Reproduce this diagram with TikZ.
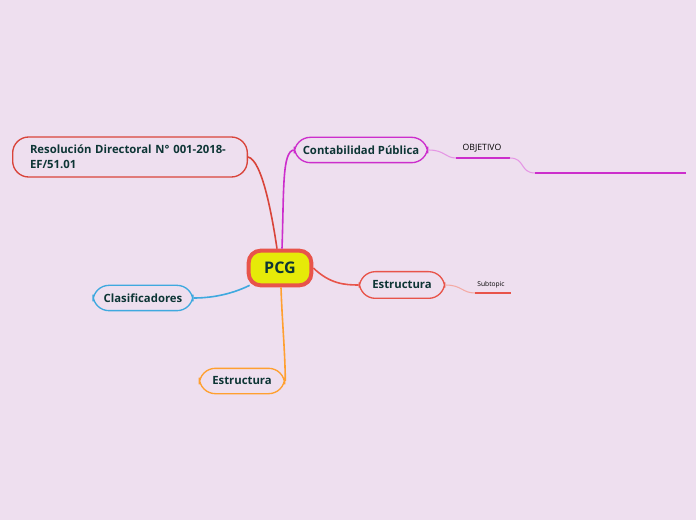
\documentclass[tikz,border=0pt]{standalone}
\usepackage{fontspec}
\setmainfont{Open Sans}
\begin{document}
\begin{tikzpicture}[x=0.75pt,y=-0.75pt,
  topic/.style={draw=#1,line width=1pt,rounded corners=12pt,fill=bgc,text=txt,font=\bfseries\fontsize{8.5}{11}\selectfont,inner sep=0pt},
  con/.style={draw=#1,line width=1.2pt}]
\definecolor{bgc}{HTML}{EEDFEF}
\definecolor{txt}{HTML}{0D3535}
\definecolor{cred}{HTML}{D9443A}
\definecolor{cmag}{HTML}{CC2ECC}
\definecolor{ccor}{HTML}{E8544A}
\definecolor{cblu}{HTML}{3FA9DF}
\definecolor{cora}{HTML}{FFA030}
\fill[bgc] (0,0) rectangle (696,520);
\useasboundingbox (0,0) rectangle (696,520);
\node[topic=cred,minimum width=176pt,minimum height=30pt,align=left,text width=150pt] (res) at (130,157) {Resolución Directoral N° 001-2018-EF/51.01};
\node[topic=cmag,minimum width=100pt,minimum height=19pt] (cont) at (361,150) {Contabilidad Pública};
\node[topic=ccor,minimum width=64pt,minimum height=20pt] (est1) at (402,285) {Estructura};
\node[topic=cblu,minimum width=75pt,minimum height=19pt] (cla) at (143,298) {Clasificadores};
\node[topic=cora,minimum width=64pt,minimum height=19pt] (est2) at (242,381) {Estructura};
\node[draw=ccor,line width=3pt,fill=yellow!90!green,rounded corners=9pt,minimum width=47pt,minimum height=26pt,text=txt,font=\bfseries\fontsize{12}{14}\selectfont] (pcg) at (280,268) {PCG};
\begin{scope}[on background layer/.try]
\end{scope}
\draw[con=cred] (pcg.north)+(-3,0) coordinate (p1) .. controls (272,215) and (262,160) .. (res.east);
\draw[con=cmag] (pcg.north)+(2,0) coordinate (p2) .. controls (284,190) and (282,152) .. (cont.west);
\draw[con=ccor] (pcg.east) .. controls (330,284) and (345,285) .. (est1.west);
\draw[con=cblu] (pcg.south west)+(3,-2) coordinate (p3) .. controls (230,295) and (210,298) .. (cla.east);
\draw[con=cora] (pcg.south)+(1,0) coordinate (p4) .. controls (282,320) and (285,350) .. (est2.east);
% subtopics
\node[font=\fontsize{6.5}{8}\selectfont,text=black] (obj) at (482,148) {OBJETIVO};
\coordinate (o1) at (456,158);
\coordinate (o2) at (510,158);
\coordinate (o3) at (535,173);
\coordinate (o4) at (686,173);
\draw[cmag!50,line width=0.8pt] (cont.east) .. controls (445,150) and (445,158) .. (o1);
\draw[cmag,line width=1.3pt] (o1) -- (o2);
\draw[cmag!50,line width=0.8pt] (o2) .. controls (525,158) and (520,173) .. (o3);
\draw[cmag,line width=1.3pt] (o3) -- (o4);
\node[font=\fontsize{5}{6}\selectfont,text=black] (sub) at (491,285) {Subtopic};
\coordinate (s1) at (475,293);
\coordinate (s2) at (511,293);
\draw[ccor!50,line width=0.8pt] (est1.east) .. controls (462,285) and (462,293) .. (s1);
\draw[ccor,line width=1.3pt] (s1) -- (s2);
\end{tikzpicture}
\end{document}
